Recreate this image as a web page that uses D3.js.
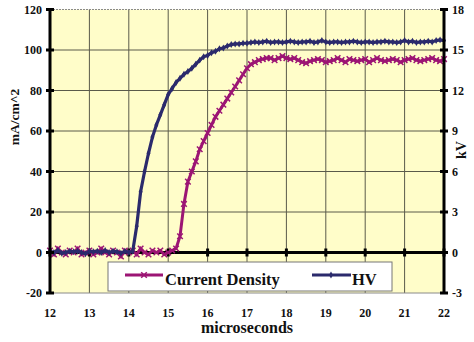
<!DOCTYPE html>
<html>
<head>
<meta charset="utf-8">
<script src="https://cdn.jsdelivr.net/npm/d3@7"></script>
<style>
  html, body { margin: 0; padding: 0; background: #fff; }
  svg { display: block; }
  svg text { font-family: "Liberation Serif", "Times New Roman", Times, serif; font-weight: 700; }
</style>
</head>
<body>
<svg id="chart" width="474" height="342"></svg>
<script>
// ---- Data ----
const times = [12.0,12.1,12.2,12.3,12.4,12.5,12.6,12.7,12.8,12.9,
  13.0,13.1,13.2,13.3,13.4,13.5,13.6,13.7,13.8,13.9,
  14.0,14.1,14.2,14.3,14.4,14.5,14.6,14.7,14.8,14.9,
  15.0,15.1,15.2,15.3,15.4,15.5,15.6,15.7,15.8,15.9,
  16.0,16.1,16.2,16.3,16.4,16.5,16.6,16.7,16.8,16.9,
  17.0,17.1,17.2,17.3,17.4,17.5,17.6,17.7,17.8,17.9,
  18.0,18.1,18.2,18.3,18.4,18.5,18.6,18.7,18.8,18.9,
  19.0,19.1,19.2,19.3,19.4,19.5,19.6,19.7,19.8,19.9,
  20.0,20.1,20.2,20.3,20.4,20.5,20.6,20.7,20.8,20.9,
  21.0,21.1,21.2,21.3,21.4,21.5,21.6,21.7,21.8,21.9,22.0];

// Current density, mA/cm^2 (left axis)
const currentDensity = [1,-1,2,0,-1,1,0,2,-1,0,1,-1,0,2,0,-1,1,0,-2,1,0,1,-1,2,0,-1,1,0,1,-1,0,1,
  2,8,24,35,40,45,51,55,59,63,67,70,73,76,79,82,85,88,91,93,94,95,95.5,96,96,
  95,96,97,96,95.5,96,95,94,93.5,94.5,95,95.5,95,94,94.5,95,96,95,94,95.5,
  95,94.5,95,95.5,94,95,96,95,94.5,95,95.5,95,94,95,95.5,96,95,94.5,95,95.5,
  96,95,94.5,95.5];

// HV, kV (right axis)
const hv = [0.1,0.0,0.15,-0.05,0.0,0.1,0.05,0.1,0.0,-0.1,0.1,0.05,0.1,0.0,0.15,0.0,0.1,0.05,-0.05,0.1,0.0,0.1,
  1.95,4.5,6.0,7.35,8.55,9.45,10.2,10.95,11.7,12.15,12.6,12.9,13.2,13.4,13.65,13.95,14.25,14.5,14.6,14.8,14.9,15.1,15.15,15.3,15.4,15.45,15.45,15.5,15.5,
  15.55,15.6,15.55,15.6,15.65,15.55,15.6,15.6,15.55,15.6,15.65,15.6,15.55,15.6,15.6,15.65,15.55,15.6,15.7,15.6,
  15.55,15.6,15.6,15.55,15.6,15.6,15.65,15.6,15.55,15.6,15.6,15.55,15.6,15.6,15.65,15.6,15.6,15.55,15.6,15.7,
  15.6,15.65,15.55,15.6,15.6,15.65,15.6,15.7,15.75,15.7];

const xTicks = [12,13,14,15,16,17,18,19,20,21,22];
const yLeftTicks = [-20,0,20,40,60,80,100,120];
const yRightTicks = [-3,0,3,6,9,12,15,18];
const seriesNames = ["Current Density", "HV"];

// ---- Layout ----
const svg = d3.select("#chart");
const L = 50, R = 444, T = 9.5, B = 293;
const x = d3.scaleLinear([12, 22], [L, R]);
const yL = d3.scaleLinear([-20, 120], [B, T]);
const yR = d3.scaleLinear([-3, 18], [B, T]);
const cdColor = "#9c1574";
const hvColor = "#2b2a6c";
const txt = "#111";

// plot background
svg.append("rect").attr("x", L).attr("y", T).attr("width", R - L).attr("height", B - T)
  .attr("fill", "#fffdc9");

// gridlines
const grid = svg.append("g").attr("stroke", "#5a5a4a").attr("stroke-width", 1);
xTicks.filter(d => d > 12 && d < 22).forEach(d => {
  grid.append("line").attr("x1", x(d)).attr("x2", x(d)).attr("y1", T).attr("y2", B);
});
yLeftTicks.filter(d => d > -20 && d < 120 && d !== 0).forEach(d => {
  grid.append("line").attr("x1", L).attr("x2", R).attr("y1", yL(d)).attr("y2", yL(d));
});
// top / bottom borders
svg.append("line").attr("x1", L).attr("x2", R).attr("y1", T).attr("y2", T)
  .attr("stroke", "#8a8a8a").attr("stroke-width", 1).attr("stroke-dasharray", "2,1");
svg.append("line").attr("x1", L).attr("x2", R).attr("y1", B).attr("y2", B)
  .attr("stroke", "#8a8a8a").attr("stroke-width", 1);

// zero line (x axis) with ticks
svg.append("line").attr("x1", L).attr("x2", R).attr("y1", yL(0)).attr("y2", yL(0))
  .attr("stroke", "#000").attr("stroke-width", 3);
xTicks.forEach(d => {
  svg.append("line").attr("x1", x(d)).attr("x2", x(d)).attr("y1", yL(0) - 4).attr("y2", yL(0) + 4)
    .attr("stroke", "#000").attr("stroke-width", 3);
});

// legend box
const lg = svg.append("g");
lg.append("rect").attr("x", 108).attr("y", 262).attr("width", 284).attr("height", 29)
  .attr("fill", "#fff").attr("stroke", "#777").attr("stroke-width", 1);

// series
const cdData = times.map((t, i) => [t, currentDensity[i]]);
const hvData = times.map((t, i) => [t, hv[i]]);

svg.append("path").datum(cdData)
  .attr("d", d3.line().x(d => x(d[0])).y(d => yL(d[1])))
  .attr("fill", "none").attr("stroke", cdColor).attr("stroke-width", 3);
svg.append("g").selectAll("path").data(cdData).join("path")
  .attr("transform", d => `translate(${x(d[0])},${yL(d[1])})`)
  .attr("d", d3.symbol().type(d3.symbolX).size(22))
  .attr("fill", "none").attr("stroke", cdColor).attr("stroke-width", 1.5);

svg.append("path").datum(hvData)
  .attr("d", d3.line().x(d => x(d[0])).y(d => yR(d[1])))
  .attr("fill", "none").attr("stroke", hvColor).attr("stroke-width", 3.2);
svg.append("g").selectAll("path").data(hvData).join("path")
  .attr("transform", d => `translate(${x(d[0])},${yR(d[1])})`)
  .attr("d", d3.symbol().type(d3.symbolDiamond).size(14))
  .attr("fill", hvColor);

// left axis
svg.append("line").attr("x1", L).attr("x2", L).attr("y1", T).attr("y2", B)
  .attr("stroke", "#000").attr("stroke-width", 3);
yLeftTicks.forEach(d => {
  svg.append("line").attr("x1", L - 4).attr("x2", L + 4).attr("y1", yL(d)).attr("y2", yL(d))
    .attr("stroke", "#000").attr("stroke-width", 3);
  svg.append("text").attr("x", 42).attr("y", yL(d) + 4).attr("text-anchor", "end")
    .attr("font-size", 12).attr("fill", txt).text(d);
});
// right axis
svg.append("line").attr("x1", R).attr("x2", R).attr("y1", T).attr("y2", B)
  .attr("stroke", "#000").attr("stroke-width", 3);
yRightTicks.forEach(d => {
  svg.append("text").attr("x", 452).attr("y", yR(d) + 4).attr("text-anchor", "start")
    .attr("font-size", 12).attr("fill", txt).text(d);
  svg.append("line").attr("x1", R - 4).attr("x2", R + 4).attr("y1", yR(d)).attr("y2", yR(d))
    .attr("stroke", "#000").attr("stroke-width", 3);
});
// x tick labels
xTicks.forEach(d => {
  svg.append("text").attr("x", x(d)).attr("y", 317).attr("text-anchor", "middle")
    .attr("font-size", 12).attr("fill", txt).text(d);
});

// axis titles
svg.append("text").attr("x", (L + R) / 2).attr("y", 333).attr("text-anchor", "middle")
  .attr("font-size", 16).attr("fill", txt).text("microseconds");
svg.append("text").attr("transform", "translate(19,117) rotate(-90)").attr("text-anchor", "middle")
  .attr("font-size", 13.5).attr("fill", txt).text("mA/cm^2");
svg.append("text").attr("transform", "translate(466,150) rotate(-90)").attr("text-anchor", "middle")
  .attr("font-size", 14).attr("fill", txt).text("kV");

// legend entries
lg.append("line").attr("x1", 125).attr("x2", 163).attr("y1", 275).attr("y2", 275)
  .attr("stroke", cdColor).attr("stroke-width", 3);
lg.append("path").attr("transform", "translate(144,275)")
  .attr("d", d3.symbol().type(d3.symbolX).size(22)).attr("fill", "none")
  .attr("stroke", cdColor).attr("stroke-width", 1.5);
lg.append("text").attr("x", 165).attr("y", 285).attr("font-size", 16.5).attr("fill", txt).text(seriesNames[0]);
lg.append("line").attr("x1", 312).attr("x2", 351).attr("y1", 275).attr("y2", 275)
  .attr("stroke", hvColor).attr("stroke-width", 3.2);
lg.append("path").attr("transform", "translate(331,275)")
  .attr("d", d3.symbol().type(d3.symbolDiamond).size(14)).attr("fill", hvColor);
lg.append("text").attr("x", 352).attr("y", 285).attr("font-size", 16.5).attr("fill", txt).text(seriesNames[1]);
</script>
</body>
</html>
